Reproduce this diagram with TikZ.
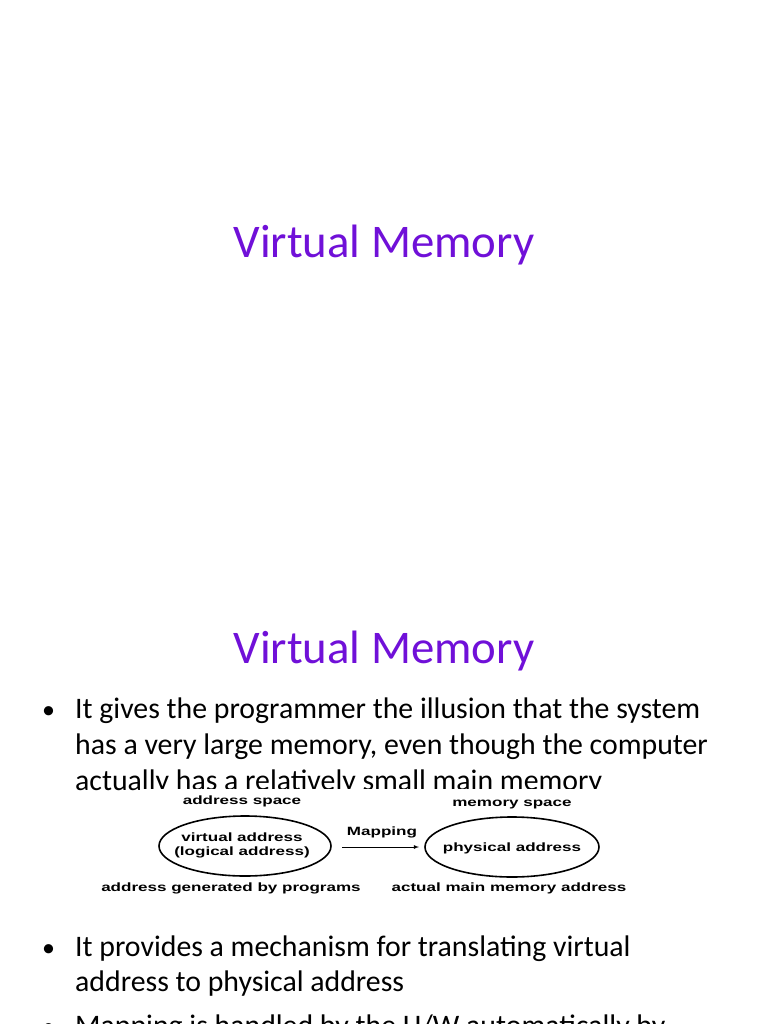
\documentclass[tikz,border=0pt]{standalone}
\usepackage{fontspec}
\setmainfont{Carlito}
\newfontfamily\diag{Liberation Sans}
\definecolor{ttl}{HTML}{7010D8}
\begin{document}
\begin{tikzpicture}[x=1pt,y=1pt,
  ttlstyle/.style={text=ttl,font=\fontsize{46.8}{46.8}\selectfont,inner sep=0},
  body/.style={anchor=base west,inner sep=0,font=\fontsize{29.8}{29.8}\selectfont},
  dot/.style={anchor=base west,inner sep=0,font=\fontsize{26}{26}\selectfont},
  lbl/.style={font=\diag\bfseries\fontsize{12}{14}\selectfont,inner sep=0,align=center,xscale=1.42},
  ell/.style={draw,ellipse,thick}]
\useasboundingbox (0,0) rectangle (768,-1024);
\clip (0,0) rectangle (768,-1024);
\node[ttlstyle] (t1) at (384,-245) {Virtual Memory};
\node[ttlstyle] (t2) at (384,-651) {Virtual Memory};
\node[dot] (b1) at (42,-718) {•};
\node[body] (l1) at (75,-718) {It gives the programmer the illusion that the system};
\node[body] (l2) at (75,-754) {has a very large memory, even though the computer};
\node[body] (l3) at (75,-790) {actually has a relatively small main memory};
\fill[white] (140,-789) rectangle (640,-910);
\draw[line width=1.6pt] (245,-846) ellipse [x radius=86,y radius=30];
\draw[line width=1.6pt] (512,-847) ellipse [x radius=87,y radius=30];
\node[lbl] (va) at (242,-845) {virtual address\\(logical address)};
\node[lbl] (pa) at (512,-848) {physical address};
\node[lbl] (as) at (242,-801) {address space};
\node[lbl] (ms) at (512,-804) {memory space};
\node[lbl] (mp) at (382,-832) {Mapping};
\node[lbl] (ag) at (231,-888) {address generated by programs};
\node[lbl] (am) at (509,-888) {actual main memory address};
\coordinate (a1) at (342,-847);
\coordinate (a2) at (419,-847);
\draw[-latex,thick] (a1) -- (a2);
\node[dot] (b2) at (42,-956) {•};
\node[body] (m1) at (75,-956) {It provides a mechanism for translating virtual};
\node[body] (m2) at (75,-991) {address to physical address};
\node[dot] (b3) at (42,-1035) {•};
\node[body] (n1) at (75,-1035) {Mapping is handled by the H/W automatically by};
\end{tikzpicture}
\end{document}
